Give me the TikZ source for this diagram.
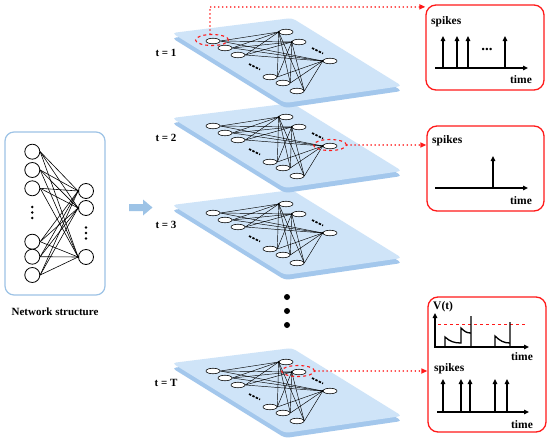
\documentclass[tikz,border=0pt]{standalone}
\usepackage{fontspec}
\setmainfont{Liberation Serif}
\usetikzlibrary{arrows.meta,shapes.geometric}
\definecolor{platetop}{HTML}{CFE4F8}
\definecolor{plateside}{HTML}{A3C7EC}
\definecolor{netblue}{HTML}{9DC3E6}
\definecolor{spred}{HTML}{FF1A1A}
\tikzset{
  neuron/.style={ellipse, draw, line width=0.6pt, fill=white, minimum width=14pt, minimum height=5.5pt, inner sep=0pt},
  cell/.style={circle, draw, line width=0.8pt, fill=white, minimum size=15pt, inner sep=0pt},
  syn/.style={line width=0.45pt},
  redring/.style={ellipse, draw=spred, dashed, line width=1.1pt, minimum width=33pt, minimum height=11pt, inner sep=0pt},
  reddot/.style={draw=spred, line width=1.6pt, dash pattern=on 0.01pt off 4pt, line cap=round, -{Triangle[length=6pt,width=5pt,fill=spred]}},
  redbox/.style={draw=spred, line width=1.3pt, rounded corners=10pt, fill=white},
  lbl/.style={font=\fontsize{11}{13}\selectfont\bfseries, inner sep=0pt},
  blbl/.style={font=\fontsize{11.5}{13}\selectfont\bfseries, inner sep=0pt},
  axis/.style={line width=1.3pt, -{Triangle[length=5pt,width=4.5pt]}},
  spk/.style={line width=1.3pt, -{Triangle[length=5pt,width=4.5pt]}},
  vcurve/.style={line width=1.3pt, line join=miter},
}
\newcommand{\netplate}[3]{%
\begin{scope}[shift={(0,#1)}]
  \fill[plateside, rounded corners=4pt] (172,38) -- (292,23) -- (402,91) -- (285,108) -- cycle;
  \fill[platetop, rounded corners=4pt] (172,33) -- (292,18) -- (402,86) -- (285,103) -- cycle;
  \node[neuron] (#2L1) at (213,41) {};
  \node[neuron] (#2L2) at (225,48) {};
  \node[neuron] (#2L3) at (238,55) {};
  \node[neuron] (#2L4) at (270,77) {};
  \node[neuron] (#2L5) at (283,83) {};
  \node[neuron] (#2L6) at (297,91) {};
  \node[neuron] (#2R1) at (286,32) {};
  \node[neuron] (#2R2) at (299,42) {};
  \node[neuron] (#2R3) at (330,61) {};
  \foreach \i in {1,...,6}{\foreach \j in {1,2,3}{\draw[syn] (#2L\i.east) -- (#2R\j.west);}}
  \foreach \j in {1,2,3}{\fill (#2R\j.west) circle (1.1pt);}
  \draw[line width=1.6pt, dash pattern=on 2.4pt off 1.4pt] (249,64) -- (260,69.5);
  \draw[line width=1.6pt, dash pattern=on 2.4pt off 1.4pt] (312,48) -- (323,53.5);
  \node[lbl] (#2lab) at (166,53) {t = #3};
\end{scope}}
\begin{document}
\begin{tikzpicture}[x=1pt,y=-1pt]
\useasboundingbox (0,0) rectangle (550,447);
\fill[white] (0,0) rectangle (550,447);

% network structure
\draw[netblue, line width=1.2pt, rounded corners=9pt] (5,132) rectangle (105,295);
\foreach \n/\y in {1/151.7,2/170,3/188.3,4/241.7,5/256.7,6/275}{\node[cell] (nL\n) at (32.3,\y) {};}
\foreach \n/\y in {1/191,2/208,3/257}{\node[cell] (nR\n) at (86,\y) {};}
\foreach \i in {1,...,6}{\foreach \j in {1,2,3}{\draw[line width=0.6pt] (nL\i.east) -- (nR\j.west);}}
\foreach \j in {1,2,3}{\fill (nR\j.west) circle (1.3pt);}
\foreach \y in {207,212.5,218}{\fill (32.3,\y) circle (1.4pt);}
\foreach \y in {227.5,233,238.5}{\fill (86,\y) circle (1.4pt);}
\node[lbl] (netlab) at (55,312) {Network structure};

% block arrow
\fill[netblue] (129,204) -- (143,204) -- (143,199.5) -- (152.5,207.5) -- (143,215.5) -- (143,211) -- (129,211) -- cycle;

% plates
\netplate{330}{pT}{T}
\netplate{172}{pC}{3}
\netplate{85}{pB}{2}
\netplate{0}{pA}{1}

% ellipsis dots
\foreach \y in {297,311,325}{\fill (287,\y) circle (3pt);}

% red rings
\node[redring] (e1) at (212,40) {};
\node[redring] (e2) at (330,145) {};
\node[redring] (e3) at (298,371) {};

% boxes
\node[redbox, minimum width=118pt, minimum height=85pt] (box1) at (485,47.5) {};
\node[redbox, minimum width=117pt, minimum height=85pt] (box2) at (485.5,168.5) {};
\node[redbox, minimum width=118pt, minimum height=135pt] (box3) at (487,364.5) {};

% connectors
\coordinate (b1in) at ([yshift=-2.5pt]box1.north west);
\draw[reddot] (e1.110) |- (b1in);
\draw[reddot] (e2.east) -- (e2.east -| box2.west);
\draw[reddot] (e3.east) -- (e3.east -| box3.west);

% box 1
\node[blbl, anchor=west] (s1) at (431,22) {spikes};
\draw[axis] (435,68) -- (528,68);
\foreach \x in {443,457,468,505}{\draw[spk] (\x,68) -- (\x,36);}
\node[font=\fontsize{15}{15}\selectfont\bfseries, inner sep=0pt] (d1) at (487,49) {...};
\node[blbl] (t1) at (521,80) {time};

% box 2
\node[blbl, anchor=west] (s2) at (432,141) {spikes};
\draw[axis] (435,188) -- (528,188);
\draw[spk] (493,188) -- (493,156);
\node[blbl] (t2) at (521,201) {time};

% box 3
\node[blbl, anchor=west] (v3) at (433,307) {V(t)};
\draw[axis] (435,347.6) -- (435,313);
\draw[axis] (434.4,347) -- (529,347);
\draw[spred, dashed, line width=0.8pt] (438,324) -- (525,324);
\draw[vcurve] (445,347) -- (445,337) .. controls (450,341.5) and (454,343) .. (461,343)
  -- (461,328) .. controls (465,332) and (467,333) .. (471,333) -- (471,316) -- (471,347);
\draw[vcurve] (495,347) -- (495,336) .. controls (500,341) and (504,343) .. (510,343)
  -- (510,322) -- (510,347);
\node[blbl] (t3) at (522,357) {time};
\node[blbl, anchor=west] (s3) at (434,369) {spikes};
\draw[axis] (437,412) -- (529,412);
\foreach \x in {443,461,470,495,507}{\draw[spk] (\x,412) -- (\x,379);}
\node[blbl] (t4) at (522,425) {time};
\end{tikzpicture}
\end{document}
